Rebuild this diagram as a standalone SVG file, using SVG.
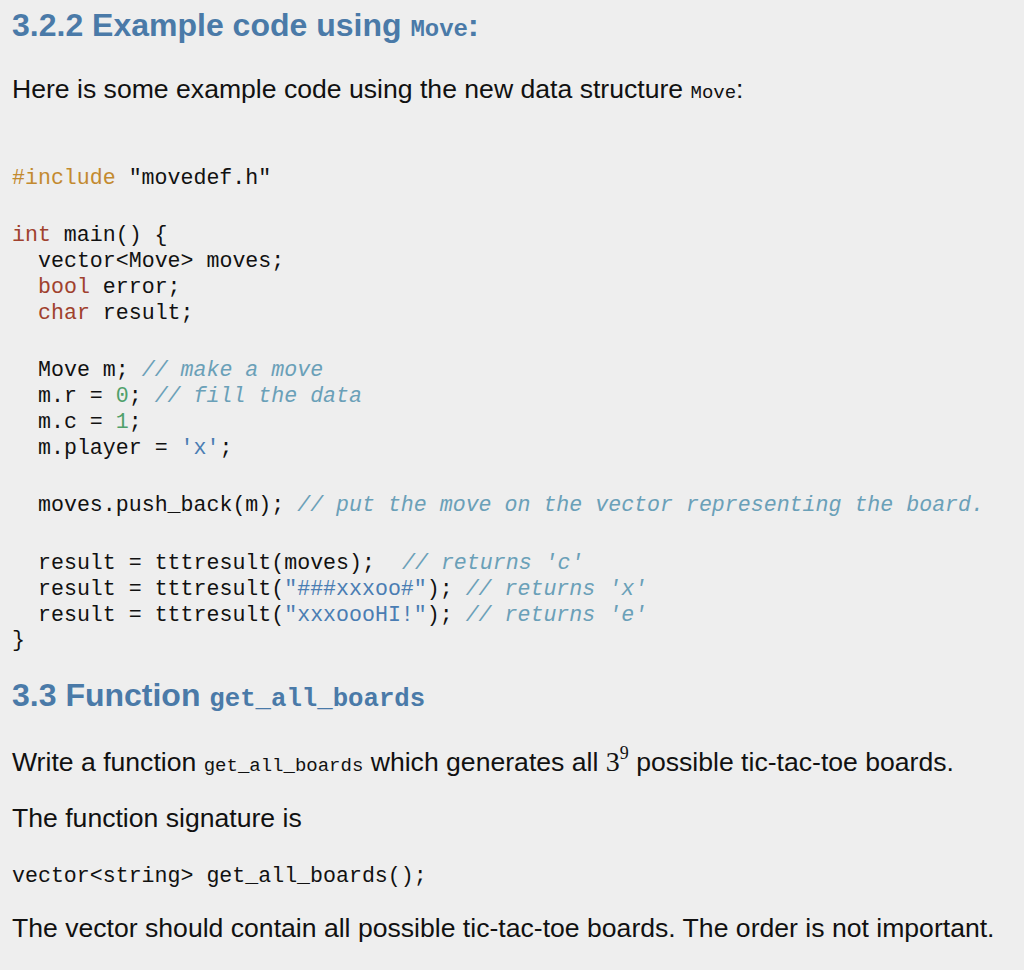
<svg xmlns="http://www.w3.org/2000/svg" width="1024" height="970" viewBox="0 0 1024 970">
<style>
.h{font-family:"Liberation Sans",Arial,sans-serif;font-weight:bold;fill:#4a7aa8;font-size:32px}
.hm{font-family:"Liberation Mono",monospace;font-weight:bold;fill:#4a7aa8}
.b{font-family:"Liberation Sans",Arial,sans-serif;font-size:26.6px;fill:#111}
.m{font-family:"Liberation Mono","Courier New",monospace;font-size:21.6px;fill:#111}
.im{font-family:"Liberation Mono",monospace;font-size:19px;fill:#111}
.k{fill:#a0412d}.p{fill:#c38a2f}.n{fill:#4fa06a}.s{fill:#4a7db3}.c{fill:#6aa0b8;font-style:italic}
</style>
<rect width="1024" height="970" fill="#eeeeee"/>
<text class="h" x="12" y="36">3.2.2 Example code using <tspan class="hm" font-size="24">Move</tspan>:</text>
<text class="b" x="12" y="98">Here is some example code using the new data structure <tspan class="im" font-size="18">Move</tspan>:</text>
<g class="m">
<text x="12" y="184"><tspan class="p">#include</tspan> "movedef.h"</text>
<text x="12" y="241"><tspan class="k">int</tspan> main() {</text>
<text x="38" y="267">vector&lt;Move&gt; moves;</text>
<text x="38" y="293"><tspan class="k">bool</tspan> error;</text>
<text x="38" y="319"><tspan class="k">char</tspan> result;</text>
<text x="38" y="376">Move m; <tspan class="c">// make a move</tspan></text>
<text x="38" y="402">m.r = <tspan class="n">0</tspan>; <tspan class="c">// fill the data</tspan></text>
<text x="38" y="428">m.c = <tspan class="n">1</tspan>;</text>
<text x="38" y="454">m.player = <tspan class="s">'x'</tspan>;</text>
<text x="38" y="511">moves.push_back(m); <tspan class="c">// put the move on the vector representing the board.</tspan></text>
<text x="38" y="569">result = tttresult(moves);<tspan class="c" x="402">// returns 'c'</tspan></text>
<text x="38" y="595">result = tttresult(<tspan class="s">"###xxxoo#"</tspan>); <tspan class="c">// returns 'x'</tspan></text>
<text x="38" y="621">result = tttresult(<tspan class="s">"xxxoooHI!"</tspan>); <tspan class="c">// returns 'e'</tspan></text>
<text x="12" y="646">}</text>
</g>
<text class="h" x="12" y="706">3.3 Function <tspan class="hm" font-size="25.7">get_all_boards</tspan></text>
<text class="b" x="12" y="771">Write a function <tspan class="im">get_all_boards</tspan> which generates all <tspan font-family="'Liberation Serif',serif" font-size="28">3</tspan><tspan font-family="'Liberation Serif',serif" font-size="18" dy="-12">9</tspan><tspan dy="12"> possible tic-tac-toe boards.</tspan></text>
<text class="b" x="12" y="827">The function signature is</text>
<text class="m" x="12" y="882">vector&lt;string&gt; get_all_boards();</text>
<text class="b" x="12" y="937">The vector should contain all possible tic-tac-toe boards. The order is not important.</text>
</svg>
